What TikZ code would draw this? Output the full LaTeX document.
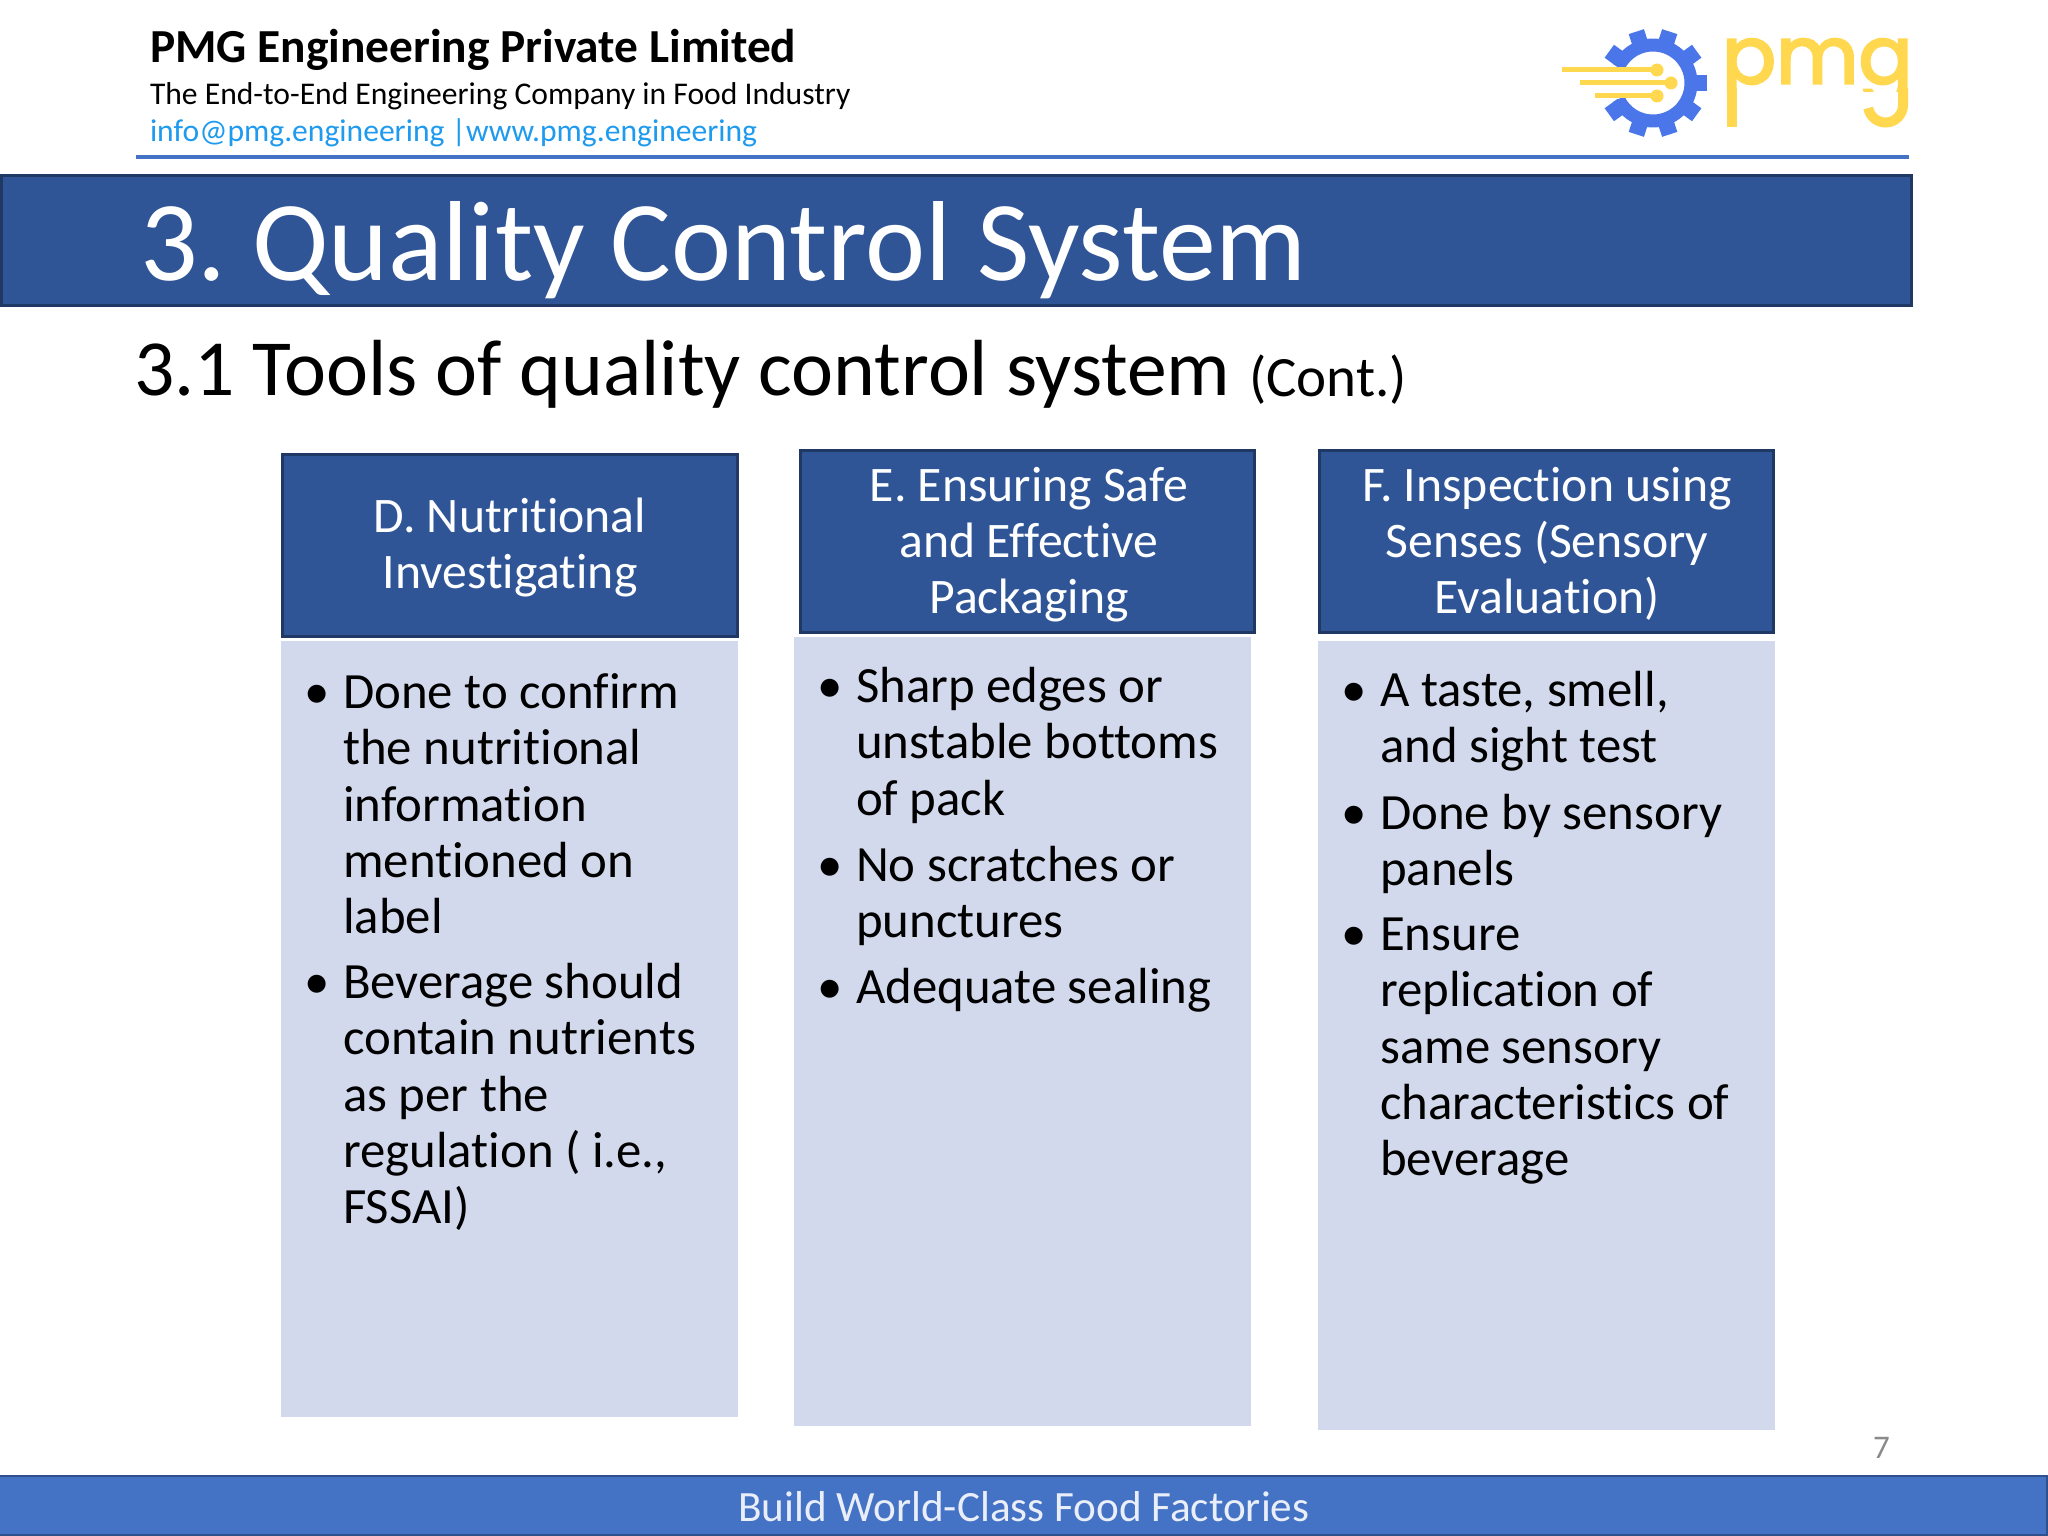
\documentclass[tikz,border=0pt]{standalone}
\usepackage{fontspec}
\setmainfont[Ligatures=NoCommon]{Carlito}
\newfontfamily\logofont[FakeBold=3]{Poppins}
\definecolor{navy}{HTML}{2F5597}
\definecolor{navyedge}{HTML}{1F3864}
\definecolor{pale}{HTML}{D3D9EC}
\definecolor{footblue}{HTML}{4472C4}
\definecolor{footedge}{HTML}{2F528F}
\definecolor{linkblue}{HTML}{1E9AEF}
\definecolor{gold}{HTML}{FFD84F}
\definecolor{gearblue}{HTML}{4A76EA}
\definecolor{pagegrey}{HTML}{8A8A8A}
\newcommand{\fs}[2]{\fontsize{#1}{#2}\selectfont}
\newcommand{\leftlines}[1]{\begin{tabular}[t]{@{}l@{}}#1\end{tabular}}
\newcommand{\midlines}[1]{\begin{tabular}[t]{@{}c@{}}#1\end{tabular}}
\newcommand{\bul}{\llap{\textbullet\hspace{13pt}}}
\frenchspacing
\tikzset{
  txt/.style={anchor=base west,inner sep=0pt,outer sep=0pt},
  headbox/.style={fill=navy,draw=navyedge,line width=3pt},
  bodybox/.style={fill=pale,draw=none},
  headtxt/.style={anchor=base,inner sep=0pt,text=white,font=\fs{49.7}{56.4}},
  item/.style={anchor=base west,inner sep=0pt,text=black,font=\fs{50.8}{56.4}},
  wire/.style={line width=5pt,draw=gold},
  dot/.style={fill=gold,draw=none},
  logostroke/.style={line width=10pt,draw=gold,line cap=round}
}
\begin{document}
\begin{tikzpicture}[x=1pt,y=-1pt]
\useasboundingbox (0,0) rectangle (2048,1536);
\fill[white] (0,0) rectangle (2048,1536);
% header
\node[txt,font=\bfseries\fs{47.4}{50}] (company) at (150,63) {PMG Engineering Private Limited};
\node[txt,font=\fs{31.6}{36}] (tagline) at (150,105) {The End-to-End Engineering Company in Food Industry};
\node[txt,font=\fs{31.6}{36},text=linkblue] (links) at (150,142) {info@pmg.engineering |www.pmg.engineering};
\fill[footblue] (136,155) rectangle (1909,159);
% logo
\draw[gearblue,line width=13pt] (1653,83) ++(155:38) arc[start angle=155,end angle=-155,radius=38];
\foreach \a in {0,36,72,108,144,216,252,288,324}{
  \draw[line width=16pt,gearblue] (1653,83) ++(\a:38) -- ++(\a:16);
}
\draw[wire] (1562,70) -- (1657,70);
\draw[wire] (1580,83) -- (1671,83);
\draw[wire] (1595,96) -- (1657,96);
\fill[dot] (1657,70) circle (6.5);
\fill[dot] (1671,83) circle (6.5);
\fill[dot] (1657,96) circle (6.5);
\begin{scope}
\clip (1700,20) rectangle (1930,92);
\node[txt,font=\logofont\fs{80}{90},text=gold] (pmg) at (1722,83.5) {pmg};
\end{scope}
\draw[logostroke,line cap=butt] (1732,88) -- (1732,127);
\draw[logostroke,line cap=butt] (1903,88) -- (1903,105) arc[start angle=0,end angle=170,radius=17.5];
% title band
\fill[navy,draw=navyedge,line width=3pt] (1.5,175) rectangle (1911,305);
\node[txt,text=white,font=\fs{113.8}{120}] (title) at (140,280) {3. Quality Control System};
\node[txt,font=\fs{79.6}{85}] (sub) at (134,395.5) {3.1 Tools of quality control system};
\node[txt,font=\fs{57}{60}] (cont) at (1249,396) {(Cont.)};
% boxes
\draw[headbox] (282.5,454) rectangle (737,636);
\draw[headbox] (800.5,450) rectangle (1254.5,632);
\draw[headbox] (1319.5,450) rectangle (1773,632);
\fill[bodybox] (281,641) rectangle (738,1417);
\fill[bodybox] (794,637) rectangle (1251,1426);
\fill[bodybox] (1318,641) rectangle (1775,1430);
% column D
\node[headtxt] (dh) at (510,532) {\midlines{D. Nutritional\\Investigating}};
\node[item] (d1) at (343,708.3) {\bul\leftlines{Done to confirm\\the nutritional\\information\\mentioned on\\label}};
\node[item] (d2) at (343,998.3) {\bul\leftlines{Beverage should\\contain nutrients\\as per the\\regulation ( i.e.,\\FSSAI)}};
% column E
\node[headtxt] (eh) at (1029,501) {\midlines{E. Ensuring Safe\\and Effective\\Packaging}};
\node[item] (e1) at (856,702.3) {\bul\leftlines{Sharp edges or\\unstable bottoms\\of pack}};
\node[item] (e2) at (856,881.3) {\bul\leftlines{No scratches or\\punctures}};
\node[item] (e3) at (856,1003) {\bul\leftlines{Adequate sealing}};
% column F
\node[headtxt] (fh) at (1547,501) {\midlines{F. Inspection using\\Senses (Sensory\\Evaluation)}};
\node[item] (f1) at (1380,706.3) {\bul\leftlines{A taste, smell,\\and sight test}};
\node[item] (f2) at (1380,829.3) {\bul\leftlines{Done by sensory\\panels}};
\node[item] (f3) at (1380,950.3) {\bul\leftlines{Ensure\\replication of\\same sensory\\characteristics of\\beverage}};
% footer
\node[txt,text=pagegrey,font=\fs{33}{36}] (page) at (1873,1458) {7};
\fill[footblue,draw=footedge,line width=2.5pt] (-3,1476) rectangle (2047,1535);
\node[anchor=base,inner sep=0pt,text=white!88!footblue,font=\fs{43.2}{48}] (foot) at (1024,1521) {Build World-Class Food Factories};
\end{tikzpicture}
\end{document}
